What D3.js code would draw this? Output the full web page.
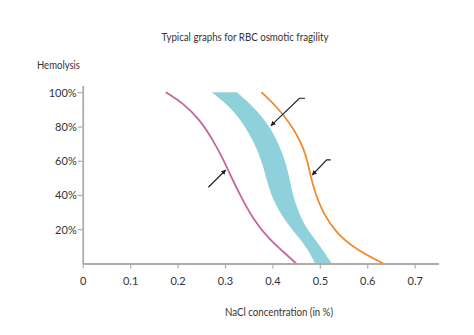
<!DOCTYPE html>
<html><head><meta charset="utf-8">
<script src="https://cdn.jsdelivr.net/npm/d3@7"></script>
<style>body{margin:0;background:#fff}svg{display:block}text{font-family:Lato,"Open Sans",sans-serif;fill:#333}</style>
</head><body><svg id="c" width="474" height="335"></svg>
<script>
const xTicks = [0, 0.1, 0.2, 0.3, 0.4, 0.5, 0.6, 0.7];
const xTickLabels = ["0", "0.1", "0.2", "0.3", "0.4", "0.5", "0.6", "0.7"];
const yTicks = [20, 40, 60, 80, 100];
const yTickLabels = ["20%", "40%", "60%", "80%", "100%"];
// pink curve: [NaCl %, hemolysis %]
const pinkCurve = [[0.175,100],[0.212,93.6],[0.247,84],[0.275,72],[0.297,60.4],[0.314,50],[0.332,40],[0.36,25.4],[0.395,13.7],[0.423,6.9],[0.45,0]];
// orange curve
const orangeCurve = [[0.377,100],[0.409,91.6],[0.437,81.9],[0.458,72.1],[0.472,62.4],[0.479,52.7],[0.49,41],[0.507,29.3],[0.535,17.6],[0.578,7.9],[0.634,0]];
// normal band: hemolysis levels with left / right NaCl bounds
const bandLevels = [100, 90, 80, 70, 60, 50, 40, 30, 20, 10, 0];
const bandLeft   = [0.272,0.317,0.342,0.363,0.377,0.387,0.397,0.415,0.44,0.472,0.49];
const bandRight  = [0.325,0.366,0.394,0.413,0.427,0.436,0.443,0.455,0.472,0.502,0.525];
// arrows (polylines, last point = head)
const arrows = [
  [[0.265,44.5],[0.3015,54.6]],
  [[0.469,96.5],[0.457,96.5],[0.397,80.5]],
  [[0.523,60.5],[0.5145,60.5],[0.484,51.7]]
];
const title = "Typical graphs for RBC osmotic fragility";
const yTitle = "Hemolysis";
const xTitle = "NaCl concentration (in %)";

const svg = d3.select("#c");
const x = d3.scaleLinear().domain([0, 0.75]).range([82.7, 438.4]);
const y = d3.scaleLinear().domain([0, 104]).range([263.5, 85.4]);
const axisColor = "#b3aaa3";

svg.append("defs").append("marker").attr("id","ah").attr("viewBox","0 0 10 10")
  .attr("refX",9).attr("refY",5).attr("markerWidth",5).attr("markerHeight",5)
  .attr("orient","auto").attr("markerUnits","userSpaceOnUse")
  .append("path").attr("d","M0,0L10,5L0,10Z").attr("fill","#222");

// band
const area = d3.area().curve(d3.curveBasis)
  .y((d,i)=>y(bandLevels[i])).x0((d,i)=>x(bandLeft[i])).x1((d,i)=>x(bandRight[i]));
svg.append("path").datum(bandLevels).attr("d", area).attr("fill","#8fd1da");

const line = d3.line().curve(d3.curveBasis).x(d=>x(d[0])).y(d=>y(d[1]));
svg.append("path").datum(pinkCurve).attr("d",line).attr("fill","none").attr("stroke","#c2679b").attr("stroke-width",1.8);
svg.append("path").datum(orangeCurve).attr("d",line).attr("fill","none").attr("stroke","#f28a2e").attr("stroke-width",1.8);

const lineStraight = d3.line().x(d=>x(d[0])).y(d=>y(d[1]));
arrows.forEach(a=>{
  svg.append("path").datum(a).attr("d",lineStraight).attr("fill","none")
    .attr("stroke","#222").attr("stroke-width",1.2).attr("marker-end","url(#ah)");
});

// axes
const xAxis = svg.append("g").attr("transform",`translate(0,${y(0)})`)
  .call(d3.axisBottom(x).tickValues(xTicks).tickFormat((d,i)=>xTickLabels[i]).tickSize(5).tickSizeOuter(0));
const yAxis = svg.append("g").attr("transform",`translate(${x(0)},0)`)
  .call(d3.axisLeft(y).tickValues(yTicks).tickFormat((d,i)=>yTickLabels[i]).tickSize(5).tickSizeOuter(0));
[xAxis,yAxis].forEach(g=>{
  g.selectAll("path.domain").attr("stroke",axisColor).attr("stroke-width",1.8);
  g.selectAll(".tick line").attr("stroke",axisColor).attr("stroke-width",1.2);
  g.selectAll("text").attr("font-family","Lato").attr("font-size",11).attr("fill","#333");
});
xAxis.selectAll("text").attr("dy","0").attr("y",21);
yAxis.selectAll("text").attr("x",-6).attr("dy","0.35em");

svg.append("text").attr("x",245).attr("y",41).attr("text-anchor","middle").attr("font-size",11.5)
  .attr("textLength",167).attr("lengthAdjust","spacingAndGlyphs").text(title);
svg.append("text").attr("x",37).attr("y",69).attr("font-size",11.5)
  .attr("textLength",43).attr("lengthAdjust","spacingAndGlyphs").text(yTitle);
svg.append("text").attr("x",279).attr("y",316).attr("text-anchor","middle").attr("font-size",11.5)
  .attr("textLength",108).attr("lengthAdjust","spacingAndGlyphs").text(xTitle);
</script></body></html>
